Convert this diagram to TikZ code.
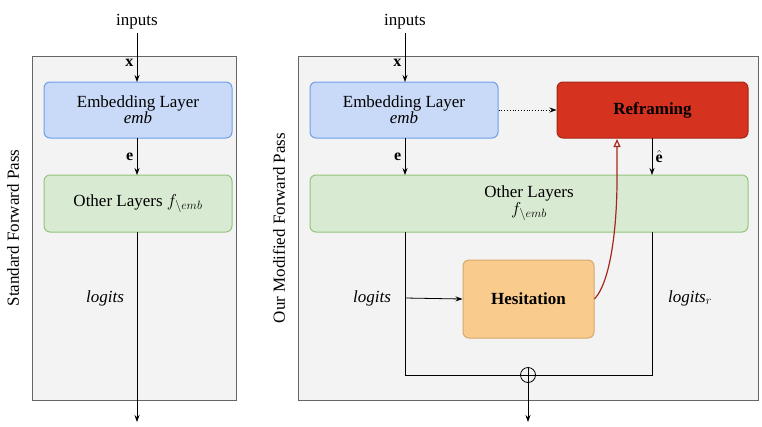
\documentclass[tikz,border=0pt]{standalone}
\usepackage{fontspec}
\setmainfont{Liberation Serif}
\usetikzlibrary{arrows.meta}
\definecolor{panel}{HTML}{F3F3F3}
\definecolor{blueF}{HTML}{C9DAF8}\definecolor{blueD}{HTML}{6D9EEB}
\definecolor{greenF}{HTML}{D9EAD3}\definecolor{greenD}{HTML}{93C47D}
\definecolor{redF}{HTML}{D5321F}\definecolor{redD}{HTML}{A52714}
\definecolor{orF}{HTML}{F9CB8C}\definecolor{orD}{HTML}{D6A96B}
\definecolor{curve}{HTML}{A8271C}
\begin{document}
\begin{tikzpicture}[x=1pt,y=-1pt,font=\fontsize{17}{19}\selectfont,
  box/.style={draw,rounded corners=6pt,line width=1pt,inner sep=0pt,align=center},
  arr/.style={-{Stealth[length=7pt,width=5pt]},line width=0.8pt},
  pan/.style={fill=panel,draw=gray!80!black,line width=0.8pt}]
\useasboundingbox (0,0) rectangle (762,426);
% left panel
\path[pan] (32,56) rectangle (236,400);
\node[rotate=90] (lt) at (13,228) {Standard Forward Pass};
\node (in1) at (137,22) {inputs};
\node[box,fill=blueF,draw=blueD,minimum width=188pt,minimum height=56pt] (emb1) at (138,110) {Embedding Layer\\[-3pt]\textit{emb}};
\node[box,fill=greenF,draw=greenD,minimum width=188pt,minimum height=57pt] (oth1) at (138,203.5) {Other Layers $f_{\backslash emb}$};
\coordinate (out1) at (137,422);
\draw[arr] (in1) -- node[left,pos=0.6,font=\fontsize{16}{18}\selectfont\bfseries]{x} (137,82);
\draw[arr] (137,138) -- node[left,font=\fontsize{16}{18}\selectfont\bfseries]{e} (137,175);
\draw[arr] (137,232) -- (out1);
\node (lg1) at (105,298) {\textit{logits}};
% right panel
\path[pan] (298,56) rectangle (758,400);
\node[rotate=90] (rt) at (279,228) {Our Modified Forward Pass};
\node (in2) at (405,22) {inputs};
\node[box,fill=blueF,draw=blueD,minimum width=188pt,minimum height=56pt] (emb2) at (404,110) {Embedding Layer\\[-3pt]\textit{emb}};
\node[box,fill=redF,draw=redD,minimum width=191pt,minimum height=56pt,font=\fontsize{17}{19}\selectfont\bfseries] (ref) at (652.5,110) {Reframing};
\node[box,fill=greenF,draw=greenD,minimum width=438pt,minimum height=57pt] (oth2) at (529,203.5) {Other Layers\\[-2pt]$f_{\backslash emb}$};
\node[box,fill=orF,draw=orD,minimum width=131pt,minimum height=78pt,font=\fontsize{17}{19}\selectfont\bfseries] (hes) at (528.5,299) {Hesitation};
\draw[arr] (in2) -- node[left,pos=0.6,font=\fontsize{16}{18}\selectfont\bfseries]{x} (405,82);
\draw[arr,dotted] (emb2) -- (ref);
\draw[arr] (405,138) -- node[left,font=\fontsize{16}{18}\selectfont\bfseries]{e} (405,175);
\draw[arr] (652,138) -- node[right,font=\fontsize{16}{18}\selectfont\bfseries]{$\hat{\mathbf{e}}$} (652,175);
\node[draw,circle,minimum size=15pt,inner sep=0pt,line width=0.8pt] (sum) at (528,375) {};
\draw[line width=0.8pt] (sum.north)--(sum.south) (sum.west)--(sum.east);
\draw[line width=0.8pt] (405,232) -- (405,375) -- (sum.west);
\draw[line width=0.8pt] (652,232) -- (652,375) -- (sum.east);
\coordinate (out2) at (528,422);
\draw[arr] (sum.south) -- (out2);
\draw[arr] (405,298) -- (hes.west);
\draw[curve,line width=1.2pt,-{Triangle[open,length=8pt,width=7pt]}] (hes.east) .. controls (612,280) and (617,220) .. (617,180) -- (617,139);
\node (lg2) at (372,298) {\textit{logits}};
\node (lg3) at (690,298) {\textit{logits}$_r$};
\end{tikzpicture}
\end{document}
